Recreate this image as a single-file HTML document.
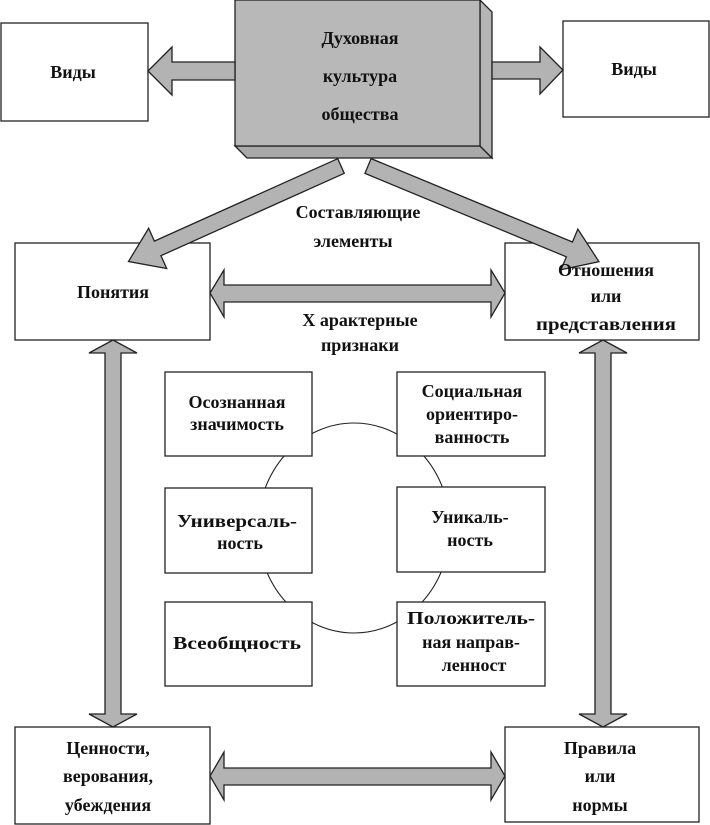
<!DOCTYPE html>
<html><head><meta charset="utf-8"><style>
html,body{margin:0;padding:0;background:#fff;}
svg{display:block}
text{font-family:"Liberation Serif","DejaVu Serif",serif;font-weight:bold;font-size:18px;fill:#111;text-anchor:middle}
</style></head><body>
<svg width="710" height="825" viewBox="0 0 710 825" xmlns="http://www.w3.org/2000/svg">
<g stroke="#222" stroke-width="1.3">
<rect x="1" y="23" width="147" height="98" fill="#fff"/>
<rect x="563" y="21" width="146" height="96" fill="#fff"/>
<polygon points="235,146 480,146 492,158 247,158" fill="#a9a9a9"/>
<polygon points="480,0 492,12 492,158 480,146" fill="#b5b5b5"/>
<rect x="235" y="0" width="245" height="146" fill="#b8b8b8"/>
<polygon points="235,62 172,62 172,47 148,71 172,95 172,80 235,80" fill="#b3b3b3"/>
<polygon points="492,62 540,62 540,47 563,70 540,94 540,79 492,79" fill="#b3b3b3"/>
<rect x="15" y="243" width="195" height="97" fill="#fff"/>
<rect x="505" y="243" width="194" height="97" fill="#fff"/>
<rect x="15" y="727" width="195" height="97" fill="#fff"/>
<rect x="505" y="727" width="194" height="95" fill="#fff"/>
<g transform="translate(341,166) rotate(155.8)"><polygon points="0,-8 201,-8 201,-22 233,0 201,22 201,8 0,8" fill="#b3b3b3"/></g>
<g transform="translate(368,166) rotate(22.5)"><polygon points="0,-8 218,-8 218,-22 250,0 218,22 218,8 0,8" fill="#b3b3b3"/></g>
<polygon points="210,293 224,270 224,285 491,285 491,270 505,293 491,317 491,302 224,302 224,317" fill="#b3b3b3"/>
<polygon points="210,776 224,752 224,768 491,768 491,752 505,776 491,800 491,785 224,785 224,800" fill="#b3b3b3"/>
<polygon points="113,340 137,353 121,353 121,714 137,714 113,727 89,714 105,714 105,353 89,353" fill="#b3b3b3"/>
<polygon points="603,340 627,353 611,353 611,714 627,714 603,727 579,714 595,714 595,353 579,353" fill="#b3b3b3"/>
<ellipse cx="354" cy="528" rx="96" ry="105" fill="none" stroke-width="1.1"/>
<rect x="165" y="372" width="147" height="84" fill="#fff"/>
<rect x="165" y="488" width="147" height="85" fill="#fff"/>
<rect x="165" y="602" width="147" height="84" fill="#fff"/>
<rect x="397" y="372" width="148" height="84" fill="#fff"/>
<rect x="397" y="487" width="148" height="85" fill="#fff"/>
<rect x="397" y="602" width="148" height="84" fill="#fff"/>
</g>
<text x="73" y="78">Виды</text>
<text x="634" y="75">Виды</text>
<text x="360" y="44">Духовная</text>
<text x="360" y="82">культура</text>
<text x="360" y="120">общества</text>
<text x="358" y="218">Составляющие</text>
<text x="353" y="247">элементы</text>
<text x="113" y="298">Понятия</text>
<text x="606" y="276">Отношения</text>
<text x="606" y="302">или</text>
<text x="606" y="330" textLength="140" lengthAdjust="spacingAndGlyphs">представления</text>
<text x="360" y="326">Х арактерные</text>
<text x="360" y="351">признаки</text>
<text x="237" y="408">Осознанная</text>
<text x="237" y="430">значимость</text>
<text x="472" y="397">Социальная</text>
<text x="472" y="420">ориентиро-</text>
<text x="472" y="443">ванность</text>
<text x="237" y="527" textLength="120" lengthAdjust="spacingAndGlyphs">Универсаль-</text>
<text x="240" y="549">ность</text>
<text x="470" y="523">Уникаль-</text>
<text x="470" y="546">ность</text>
<text x="237" y="649" textLength="128" lengthAdjust="spacingAndGlyphs">Всеобщность</text>
<text x="471" y="624" textLength="128" lengthAdjust="spacingAndGlyphs">Положитель-</text>
<text x="471" y="648">ная направ-</text>
<text x="474" y="671">ленност</text>
<text x="108" y="754">Ценности,</text>
<text x="108" y="782">верования,</text>
<text x="108" y="811">убеждения</text>
<text x="600" y="754">Правила</text>
<text x="600" y="782">или</text>
<text x="600" y="811">нормы</text>
</svg>
</body></html>
